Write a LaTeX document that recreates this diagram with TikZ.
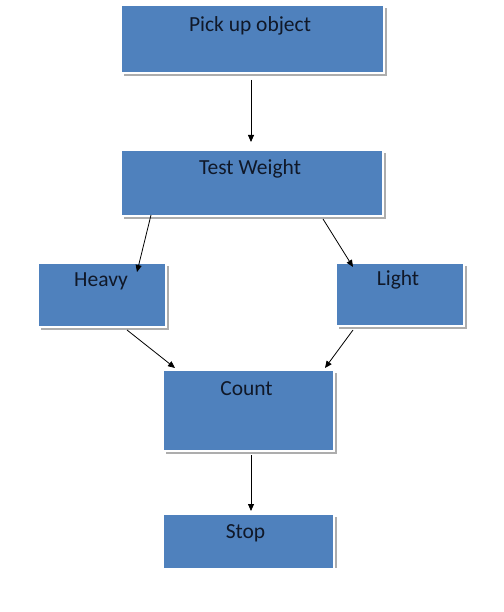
\documentclass[tikz,border=0pt]{standalone}
\usepackage{fontspec}
\setmainfont{Carlito}
\usetikzlibrary{arrows.meta,calc,shadows}
\definecolor{boxblue}{HTML}{4F81BD}
\definecolor{txt}{HTML}{101828}
\tikzset{
  flowbox/.style={rectangle, draw=white, line width=2pt, fill=boxblue, inner sep=0pt, anchor=north west,
    drop shadow={shadow xshift=2.6pt, shadow yshift=-2.6pt, fill=black!32, opacity=1}},
  boxtext/.style={anchor=base, inner sep=0pt, text=txt, font=\fontsize{21.5}{24}\selectfont},
  arr/.style={draw=black, line width=0.8pt, -{Triangle[length=7pt,width=6pt]}}
}
\begin{document}
\begin{tikzpicture}[x=1pt,y=-1pt]
\useasboundingbox[fill=white] (0,0) rectangle (503,612);
% boxes
\node[flowbox, minimum width=263pt, minimum height=68pt] (pick) at (120,4) {};
\node[flowbox, minimum width=262pt, minimum height=66pt] (test) at (120,149) {};
\node[flowbox, minimum width=128pt, minimum height=64pt] (heavy) at (37,262) {};
\node[flowbox, minimum width=128pt, minimum height=63pt] (light) at (335,262) {};
\node[flowbox, minimum width=171pt, minimum height=81pt] (count) at (162,369) {};
\begin{scope}
  \clip (0,0) rectangle (503,567);
  \node[flowbox, minimum width=171pt, minimum height=80pt] (stop) at (162,513) {};
\end{scope}
% texts
\node[boxtext] (tpick) at (250,32) {Pick up object};
\node[boxtext] (ttest) at (250,175) {Test Weight};
\node[boxtext] (theavy) at (101,286) {Heavy};
\node[boxtext] (tlight) at (398,285) {Light};
\node[boxtext] (tcount) at (246.5,395) {Count};
\node[boxtext] (tstop) at (245.5,538) {Stop};
% connector ends
\coordinate (a1s) at ($(pick.south)+(-1.5,6)$);
\coordinate (a1e) at ($(test.north)+(-1,-7)$);
\coordinate (a2s) at ($(test.south west)+(31,-2)$);
\coordinate (a2e) at ($(heavy.north west)+(100,10)$);
\coordinate (a3s) at ($(test.south west)+(203,2)$);
\coordinate (a3e) at ($(light.north west)+(18,5)$);
\coordinate (a4s) at ($(heavy.south west)+(90,2)$);
\coordinate (a4e) at ($(count.north west)+(13,-1)$);
\coordinate (a5s) at ($(light.south west)+(18,3)$);
\coordinate (a5e) at ($(count.north west)+(163,-1)$);
\coordinate (a6s) at ($(count.south)+(2.5,3)$);
\coordinate (a6e) at ($(stop.north)+(2.5,-2)$);
% connectors
\draw[arr] (a1s) -- (a1e);
\draw[arr] (a2s) -- (a2e);
\draw[arr] (a3s) -- (a3e);
\draw[arr] (a4s) -- (a4e);
\draw[arr] (a5s) -- (a5e);
\draw[arr] (a6s) -- (a6e);
\end{tikzpicture}
\end{document}
